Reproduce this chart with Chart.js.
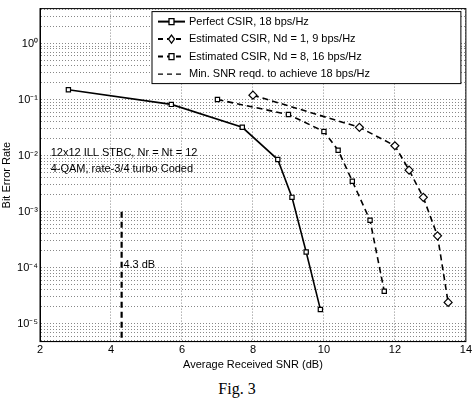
<!DOCTYPE html><html><head><script src="https://cdn.jsdelivr.net/npm/chart.js@4"></script>
<style>body{margin:0;background:#fff;font-family:"Liberation Serif"}#c{position:absolute;left:0;top:0}#cap{position:absolute;top:380px;width:474px;text-align:center;font:16px "Liberation Serif"}</style></head><body>
<div style="width:474px;height:372px;position:absolute"><canvas id="c"></canvas></div><div id="cap">Fig. 3</div>
<script>
const perfX=[2.8,5.7,7.7,8.7,9.1,9.5,9.9];
const perfY=[0.15,0.082,0.032,0.0085,0.0018,0.00019,0.000018];
const nd8X=[7,9,10,10.4,10.8,11.3,11.7];
const nd8Y=[0.1,0.054,0.027,0.0125,0.0035,0.0007,0.000038];
const nd1X=[8,11,12,12.4,12.8,13.2,13.5];
const nd1Y=[0.12,0.032,0.015,0.0055,0.0018,0.00037,0.000024];
const minX=[4.3,4.3];const minY=[0.001,0.000004];
const xTicks=[2,4,6,8,10,12,14];
const labels=["Perfect CSIR, 18 bps/Hz","Estimated CSIR, Nd = 1, 9 bps/Hz","Estimated CSIR, Nd = 8, 16 bps/Hz","Min. SNR reqd. to achieve 18 bps/Hz"];
const pts=(xs,ys)=>xs.map((x,i)=>({x,y:ys[i]}));
const sup={"0":"⁰","-":"⁻","1":"¹","2":"²","3":"³","4":"⁴","5":"⁵"};
const F="Liberation Sans";
const legendPlugin={id:'lg',afterDraw(ch){const c=ch.ctx;const a=ch.chartArea;c.save();
const x0=a.left+112,y0=a.top+3,w=a.right-x0-5,h=72;c.fillStyle='#fff';c.fillRect(x0,y0,w,h);c.strokeStyle='#000';c.lineWidth=1;c.strokeRect(x0,y0,w,h);
c.font='11px '+F;c.fillStyle='#000';c.textBaseline='middle';
ch.data.datasets.forEach((d,i)=>{const y=y0+10+i*17.5;c.beginPath();c.setLineDash(i==0?[]:[5,4]);c.lineWidth=i==3?1.3:2;c.moveTo(x0+6,y);c.lineTo(x0+33,y);c.stroke();c.setLineDash([]);
if(i<3){c.lineWidth=1.3;c.beginPath();if(i==1){c.moveTo(x0+19.5,y-4);c.lineTo(x0+22.5,y);c.lineTo(x0+19.5,y+4);c.lineTo(x0+16.5,y);c.closePath();}else c.rect(x0+17,y-3,5,6);c.fillStyle='#fff';c.fill();c.stroke();c.fillStyle='#000';}
c.fillText(labels[i],x0+37,y);});
const xs=ch.scales.x,ys=ch.scales.y;c.font='11px '+F;
c.fillText('12x12 ILL STBC, Nr = Nt = 12',xs.getPixelForValue(2.3),ys.getPixelForValue(0.011));
c.fillText('4-QAM, rate-3/4 turbo Coded',xs.getPixelForValue(2.3),ys.getPixelForValue(0.0057));
c.fillText('4.3 dB',xs.getPixelForValue(4.35),ys.getPixelForValue(0.00011));
c.restore();}};
new Chart(document.getElementById('c'),{type:'line',data:{datasets:[
{data:pts(perfX,perfY),borderColor:'#000',borderWidth:1.6,pointStyle:'rect',pointRadius:3,pointBorderWidth:1.2,pointBackgroundColor:'#fff',pointBorderColor:'#000'},
{data:pts(nd1X,nd1Y),borderColor:'#000',borderWidth:1.6,borderDash:[6,4],pointStyle:'rectRot',pointRadius:4,pointBorderWidth:1.2,pointBackgroundColor:'#fff',pointBorderColor:'#000'},
{data:pts(nd8X,nd8Y),borderColor:'#000',borderWidth:1.6,borderDash:[6,4],pointStyle:'rect',pointRadius:3,pointBorderWidth:1.2,pointBackgroundColor:'#fff',pointBorderColor:'#000'},
{data:pts(minX,minY),borderColor:'#000',borderWidth:2.2,borderDash:[6,4],pointRadius:0}]},
options:{animation:false,responsive:true,maintainAspectRatio:false,layout:{padding:{top:3,right:7,left:0,bottom:0}},plugins:{legend:{display:false},tooltip:{enabled:false}},
scales:{x:{type:'linear',min:2,max:14,afterBuildTicks:s=>{s.ticks=xTicks.map(v=>({value:v}))},ticks:{color:'#000',font:{family:F,size:11},maxRotation:0,padding:2},
grid:{color:'#888',drawTicks:false},border:{dash:[1,2],color:'#000',display:true},title:{display:true,text:'Average Received SNR (dB)',font:{family:F,size:11},color:'#000',padding:0}},
y:{type:'logarithmic',min:4.8e-6,max:4.2,afterFit:s=>{s.width=40},afterBuildTicks:s=>{const t=[];for(let e=-6;e<=0;e++)for(let m=1;m<=9;m++){const v=m*Math.pow(10,e);if(v>=4.8e-6&&v<=4.2)t.push({value:v});}s.ticks=t;},
ticks:{autoSkip:false,color:'#000',font:{family:F,size:11},padding:2,callback:v=>{const l=Math.log10(v);if(Math.abs(l-Math.round(l))<1e-9){return '10'+String(Math.round(l)).split('').map(ch=>sup[ch]).join('');}return '';}},
grid:{color:'#888',drawTicks:false},border:{dash:[1,2],color:'#000'},title:{display:true,text:'Bit Error Rate',font:{family:F,size:11},color:'#000',padding:0}}}},
plugins:[legendPlugin,{id:'frame',afterDraw(ch){const c=ch.ctx,a=ch.chartArea;c.save();c.strokeStyle='#000';c.lineWidth=1;c.strokeRect(a.left,a.top,a.right-a.left,a.bottom-a.top);c.restore();}}]});
</script></body></html>
